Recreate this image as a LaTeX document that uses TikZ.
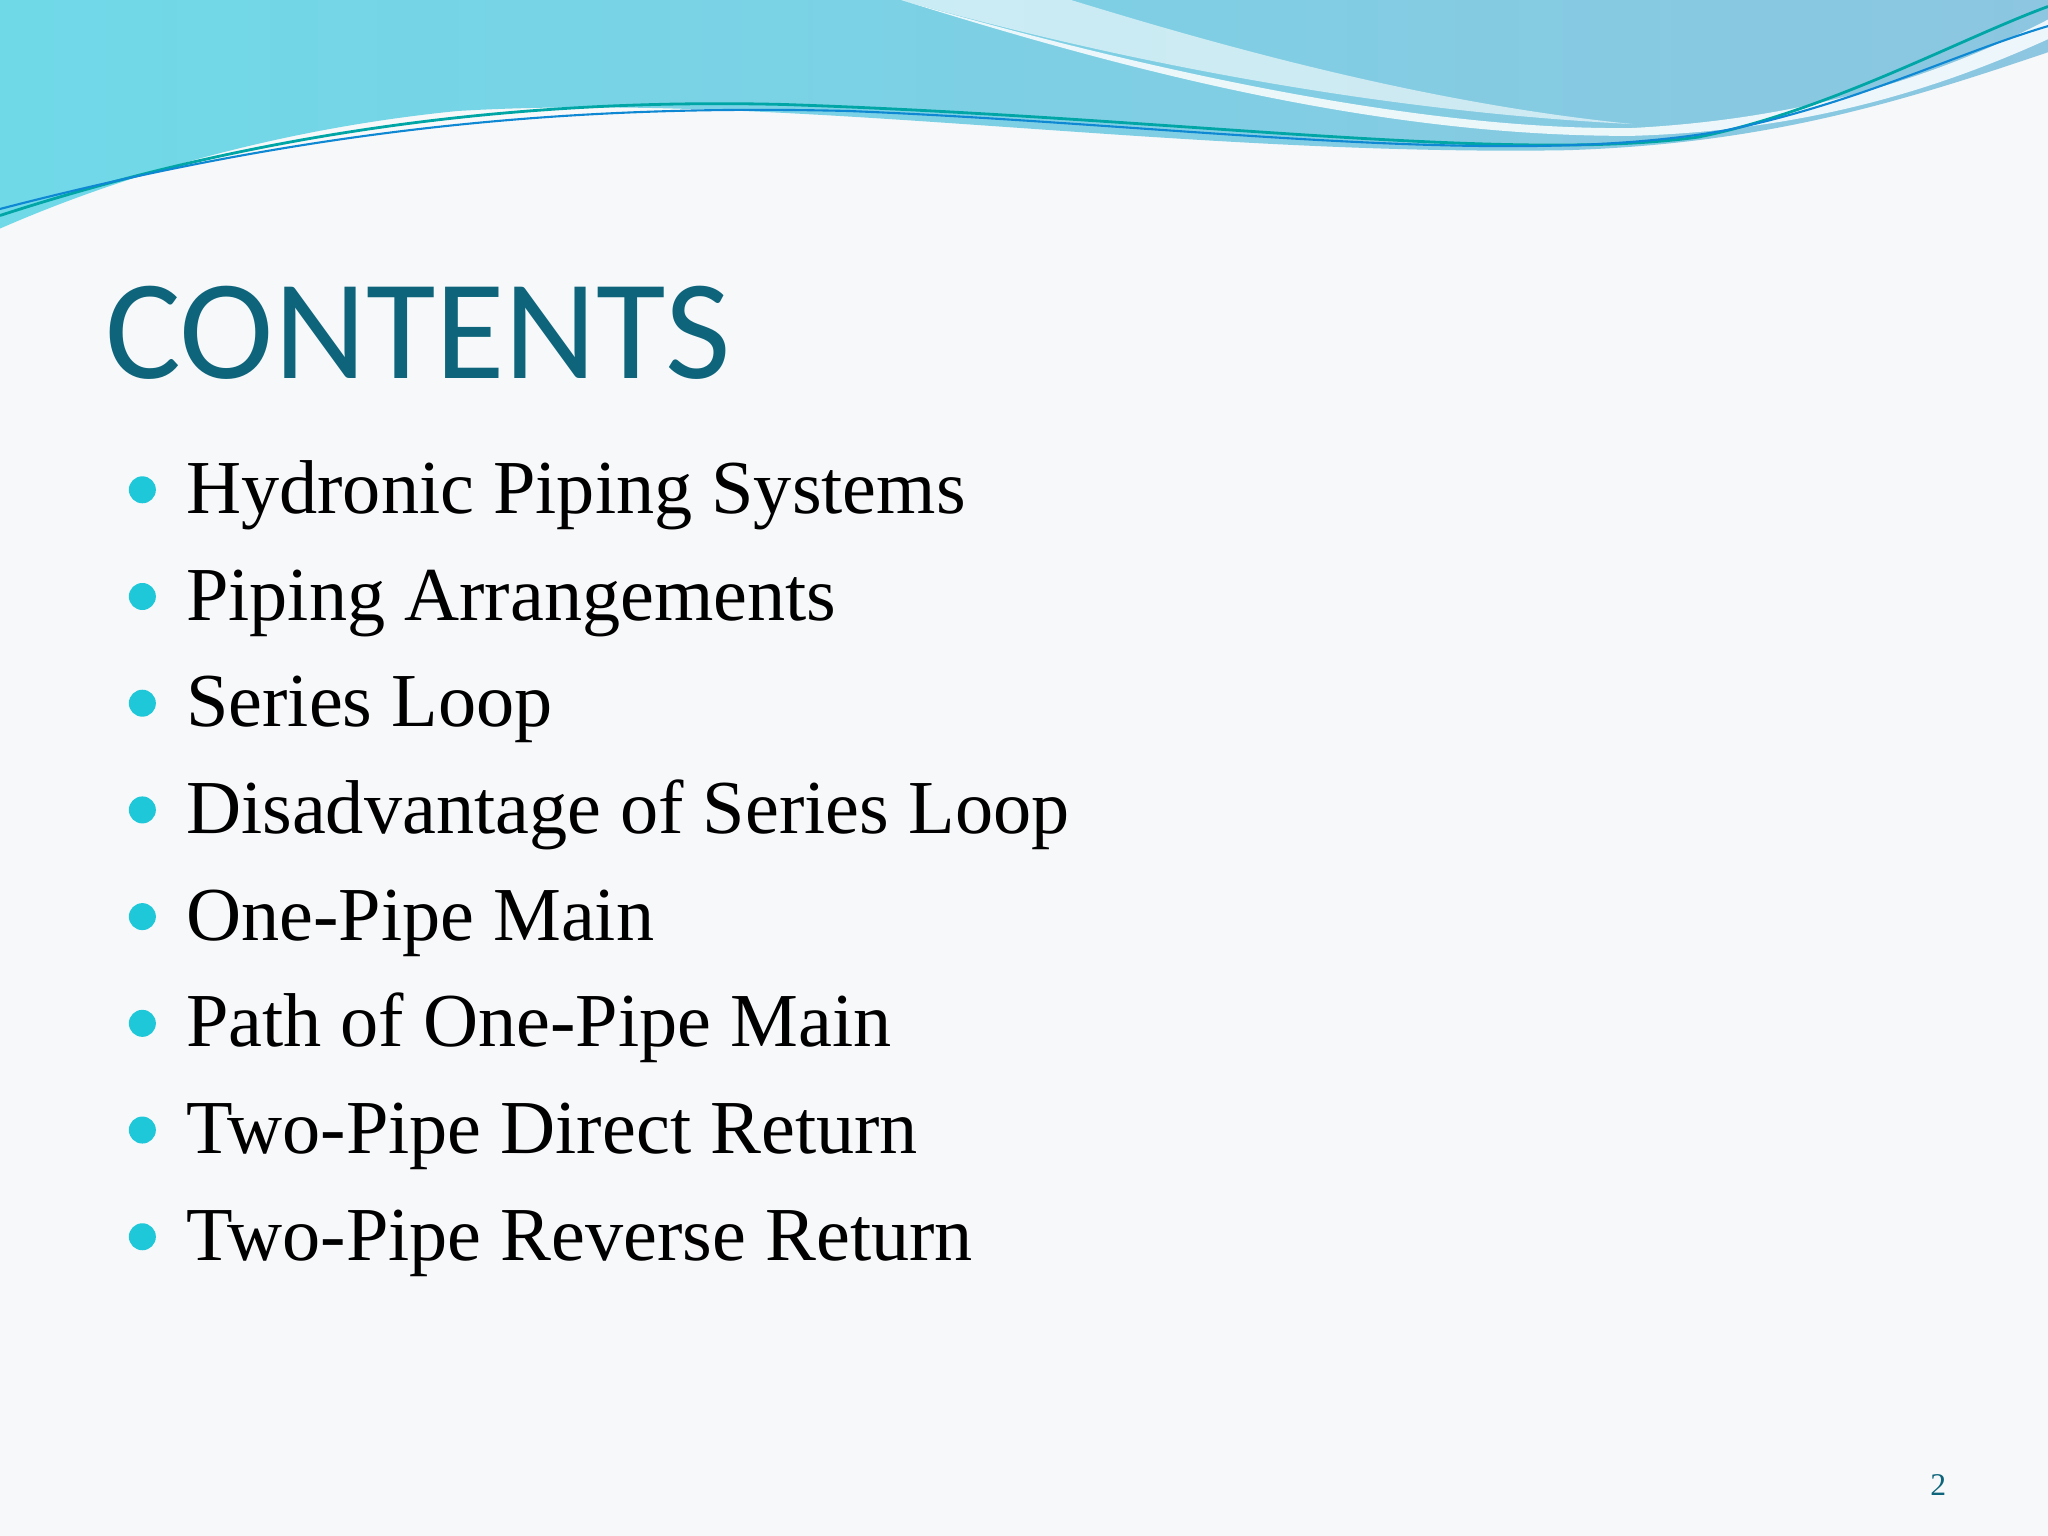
\documentclass[tikz,border=0pt]{standalone}
\usepackage{fontspec}
\setmainfont{Liberation Serif}
\newfontfamily\titlefont{Carlito}
\definecolor{teal1}{HTML}{0E657B}
\definecolor{cyanb}{HTML}{1FC8D8}
\definecolor{bg}{HTML}{F7F8FA}
\definecolor{wl}{HTML}{6FD9E8}
\definecolor{wr}{HTML}{8CC6E0}
\begin{document}
\begin{tikzpicture}[x=0.01306cm,y=-0.01306cm,
  item/.style={anchor=base west,font=\fontsize{21.7}{26}\selectfont,inner sep=0pt},
  dot/.style={circle,fill=cyanb,minimum size=0.27cm,inner sep=0pt}]
\fill[bg] (0,0) rectangle (1568,1176);
\useasboundingbox (0,0) rectangle (1568,1176);
% header waves
\shade[left color=wl, right color=wr]
  (0,0) -- (1568,0) -- (1568,40) .. controls (1450,80) and (1350,110) .. (1200,115)
  .. controls (900,120) and (600,70) .. (350,85) .. controls (200,100) and (80,140) .. (0,175) -- cycle;
\fill[white,opacity=0.85] (690,0) .. controls (900,60) and (1100,100) .. (1250,98)
  .. controls (1400,90) and (1500,50) .. (1568,15) -- (1568,30)
  .. controls (1480,70) and (1380,100) .. (1250,104) .. controls (1050,105) and (850,50) .. (690,0) -- cycle;
\fill[white,opacity=0.6] (690,0) -- (820,0) .. controls (950,40) and (1100,80) .. (1250,95) .. controls (1050,85) and (850,45) .. (690,0);
\draw[teal!70!cyan,line width=0.8pt] (0,165) .. controls (200,100) and (400,75) .. (600,80) .. controls (900,90) and (1150,125) .. (1300,105) .. controls (1400,85) and (1500,30) .. (1568,5);
\draw[cyan!70!blue,line width=0.6pt] (0,160) .. controls (250,95) and (450,80) .. (650,85) .. controls (900,95) and (1150,130) .. (1320,100) .. controls (1420,80) and (1500,40) .. (1568,20);
% title
\node[anchor=base west,inner sep=0pt,text=teal1,font=\titlefont\fontsize{40.5}{48}\selectfont] (title) at (80,290) {CONTENTS};
% items
\foreach \t [count=\i] in {Hydronic Piping Systems,Piping Arrangements,Series Loop,Disadvantage of Series Loop,One-Pipe Main,Path of One-Pipe Main,Two-Pipe Direct Return,Two-Pipe Reverse Return}{
  \pgfmathsetmacro\yy{393+81.7*(\i-1)}
  \node[item] (it\i) at (142,\yy) {\t};
  \node[dot] (d\i) at (109,\yy-18) {};
}
\node[anchor=base,inner sep=0pt,text=teal1,font=\fontsize{9}{10}\selectfont] (pg) at (1484,1145) {2};
\end{tikzpicture}
\end{document}
